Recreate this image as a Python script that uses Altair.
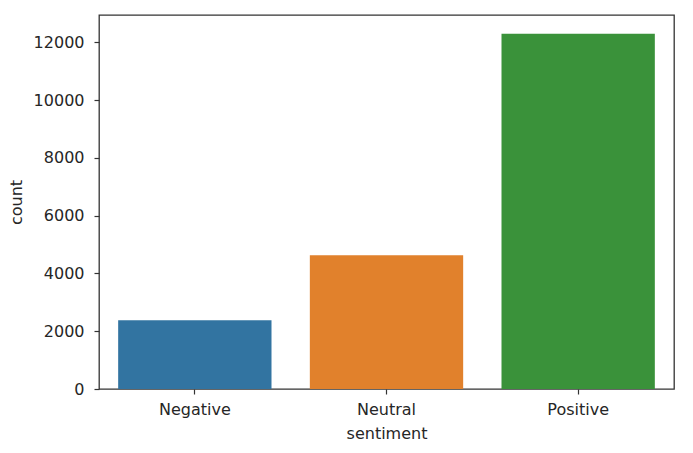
import altair as alt
import pandas as pd

categories = ["Negative", "Neutral", "Positive"]
counts = [2380, 4630, 12300]
colors = ["#3274a1", "#e1812c", "#3a923a"]

df = pd.DataFrame({"sentiment": categories, "count": counts})

chart = alt.Chart(df).mark_bar(stroke=None).encode(
    x=alt.X("sentiment:N", sort=categories,
            scale=alt.Scale(paddingInner=0.2, paddingOuter=0.1),
            axis=alt.Axis(title="sentiment", labelAngle=0, tickSize=5, labelPadding=7,
                          titlePadding=8, domain=False)),
    y=alt.Y("count:Q", scale=alt.Scale(domain=[0, 12950], nice=False),
            axis=alt.Axis(title="count", values=[0, 2000, 4000, 6000, 8000, 10000, 12000],
                          format="d", tickSize=5, labelPadding=10, titlePadding=9,
                          grid=False, domain=False)),
    color=alt.Color("sentiment:N", scale=alt.Scale(domain=categories, range=colors), legend=None),
).properties(
    width=575, height=374,
    autosize=alt.AutoSizeParams(type="none"),
    padding={"left": 91, "top": 7, "right": 11, "bottom": 55},
).configure_view(
    stroke="#333333", strokeWidth=1.3
).configure_axis(
    labelFont="DejaVu Sans", titleFont="DejaVu Sans",
    labelFontSize=16, titleFontSize=16, titleFontWeight="normal",
    labelColor="#262626", titleColor="#262626", tickColor="#333333", tickWidth=1.2,
)

chart.save("out.html", embed_options={"renderer": "svg", "actions": False})
